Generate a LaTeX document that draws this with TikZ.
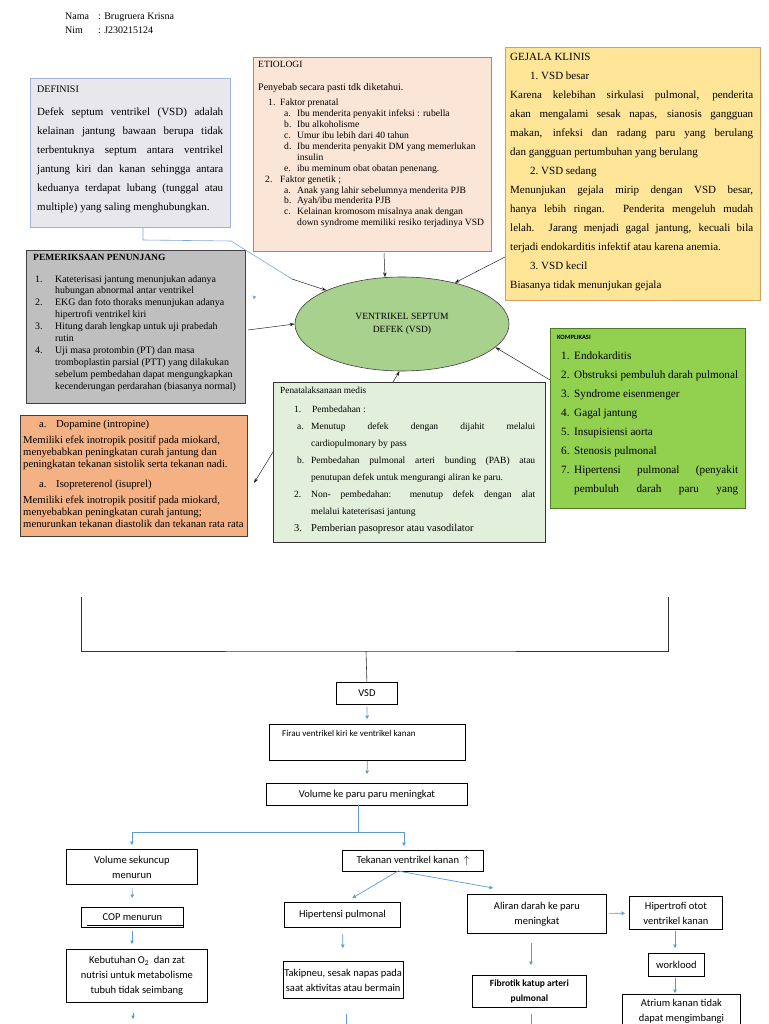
\documentclass[tikz,border=0pt]{standalone}
\usepackage{fontspec}
\setmainfont{Liberation Serif}
\newfontfamily\flowfont{Carlito}
\usetikzlibrary{arrows.meta,shapes.geometric}
\definecolor{defFill}{HTML}{E8E8EC}
\definecolor{defLine}{HTML}{9FB6D8}
\definecolor{etiFill}{HTML}{FBE5D6}
\definecolor{etiLine}{HTML}{C08060}
\definecolor{gejFill}{HTML}{FFE597}
\definecolor{gejLine}{HTML}{D4A060}
\definecolor{pemFill}{HTML}{BFBFBF}
\definecolor{komFill}{HTML}{92D050}
\definecolor{komLine}{HTML}{4F7A2A}
\definecolor{penFill}{HTML}{E2EFDA}
\definecolor{dopFill}{HTML}{F4B183}
\definecolor{ellFill}{HTML}{A9D18E}
\definecolor{flowBlue}{HTML}{5B9BD5}
\definecolor{linkBlue}{HTML}{7EA6D8}
\newcommand\bx[6]{\node[box,#1,minimum width={(#4-#2)*1pt},minimum height={(#5-#3)*1pt}] (#6) at (#2,#3) {};}
\newcommand\fb[7]{\node[fbox,#1,minimum width={(#4-#2)*1pt},minimum height={(#5-#3)*1pt},anchor=north west] (#6) at (#2,#3) {#7};}
\newcommand\lab[2]{\makebox[#1][l]{#2}}
\newcommand\js[2]{\makebox[#1][s]{#2}}
\begin{document}
\begin{tikzpicture}[x=1pt,y=-1pt,
 box/.style={draw, line width=0.6pt, inner sep=0pt, anchor=north west},
 txt/.style={inner sep=0pt, anchor=north west, align=left},
 fbox/.style={draw=black, line width=0.8pt, fill=white, inner sep=1pt, align=center, font=\flowfont\fontsize{10.5}{15}\selectfont},
 blk/.style={draw=black!85, line width=0.5pt, -{Stealth[length=5pt,width=3.5pt]}},
 blu/.style={draw=flowBlue, line width=0.7pt, -{Triangle[length=3.5pt,width=3.5pt]}},
 bluline/.style={draw=flowBlue, line width=0.7pt}]
\useasboundingbox[fill=white] (0,0) rectangle (768,1024);

% header
\node[txt, font=\fontsize{10}{14}\selectfont] (head) at (65,13) {\lab{33pt}{Nama}: Brugruera Krisna\\\lab{33pt}{Nim}: J230215124};

% boxes
\bx{fill=defFill,draw=defLine}{30}{78}{230}{227}{defbox}
\bx{fill=etiFill,draw=etiLine}{253}{57}{491}{251}{etibox}
\bx{fill=gejFill,draw=gejLine}{505}{47}{760}{300}{gejbox}
\bx{fill=pemFill,draw=black!75}{26}{250}{245}{403}{pembox}
\bx{fill=komFill,draw=komLine}{550}{328}{745}{508}{kombox}
\bx{fill=penFill,draw=black!80}{273}{382}{545}{542}{penbox}
\bx{fill=dopFill,draw=black!75}{20}{415}{247}{536}{dopbox}
\node[ellipse, draw=black!75, line width=0.6pt, fill=ellFill, minimum width=214pt, minimum height=94pt, align=center, font=\fontsize{9.5}{13}\selectfont] (vsd) at (402,324) {VENTRIKEL SEPTUM\\DEFEK (VSD)};

% definisi
\node[txt, font=\fontsize{10}{19}\selectfont] (deft) at (37,86) {DEFINISI};
\node[txt, font=\fontsize{11}{19}\selectfont] (defb) at (37,108) {\js{186pt}{Defek septum ventrikel (VSD) adalah}\\
\js{186pt}{kelainan jantung bawaan berupa tidak}\\
\js{186pt}{terbentuknya septum antara ventrikel}\\
\js{186pt}{jantung kiri dan kanan sehingga antara}\\
\js{186pt}{keduanya terdapat lubang (tunggal atau}\\
multiple) yang saling menghubungkan.};

% etiologi
\node[txt, font=\fontsize{9.5}{10.5}\selectfont] (etit) at (258,61) {ETIOLOGI};
\node[txt, font=\fontsize{10}{10.6}\selectfont] (etip) at (258,83) {Penyebab secara pasti tdk diketahui.};
\node[txt, font=\fontsize{9.6}{10.9}\selectfont] (etil) at (265,99) {\hspace*{3pt}\lab{12pt}{1.}Faktor prenatal\\
\hspace*{19pt}\lab{13pt}{a.}Ibu menderita penyakit infeksi : rubella\\
\hspace*{19pt}\lab{13pt}{b.}Ibu alkoholisme\\
\hspace*{19pt}\lab{13pt}{c.}Umur ibu lebih dari 40 tahun\\
\hspace*{19pt}\lab{13pt}{d.}Ibu menderita penyakit DM yang memerlukan\\
\hspace*{32pt}insulin\\
\hspace*{19pt}\lab{13pt}{e.}ibu meminum obat obatan penenang.\\
\lab{15pt}{2.}Faktor genetik ;\\
\hspace*{19pt}\lab{13pt}{a.}Anak yang lahir sebelumnya menderita PJB\\
\hspace*{19pt}\lab{13pt}{b.}Ayah/ibu menderita PJB\\
\hspace*{19pt}\lab{13pt}{c.}Kelainan kromosom misalnya anak dengan\\
\hspace*{32pt}down syndrome memiliki resiko terjadinya VSD};

% gejala klinis
\node[txt, font=\fontsize{11}{19}\selectfont] (gejb) at (510,53) {GEJALA KLINIS\\
\hspace*{20pt}\lab{11pt}{1.}VSD besar\\
\js{243pt}{Karena kelebihan sirkulasi pulmonal, penderita}\\
\js{243pt}{akan mengalami sesak napas, sianosis gangguan}\\
\js{243pt}{makan, infeksi dan radang paru yang berulang}\\
dan gangguan pertumbuhan yang berulang\\
\hspace*{20pt}\lab{11pt}{2.}VSD sedang\\
\js{243pt}{Menunjukan gejala mirip dengan VSD besar,}\\
\js{243pt}{hanya lebih ringan. Penderita mengeluh mudah}\\
\js{243pt}{lelah. Jarang menjadi gagal jantung, kecuali bila}\\
terjadi endokarditis infektif atau karena anemia.\\
\hspace*{20pt}\lab{11pt}{3.}VSD kecil\\
Biasanya tidak menunjukan gejala};

% pemeriksaan penunjang
\node[txt, font=\bfseries\fontsize{9.5}{10}\selectfont] (pemt) at (33,254) {PEMERIKSAAN PENUNJANG};
\node[txt, font=\fontsize{9.9}{11.9}\selectfont] (peml) at (35,275) {\lab{20pt}{1.}Kateterisasi jantung menunjukan adanya\\
\hspace*{20pt}hubungan abnormal antar ventrikel\\
\lab{20pt}{2.}EKG dan foto thoraks menunjukan adanya\\
\hspace*{20pt}hipertrofi ventrikel kiri\\
\lab{20pt}{3.}Hitung darah lengkap untuk uji prabedah\\
\hspace*{20pt}rutin\\
\lab{20pt}{4.}Uji masa protombin (PT) dan masa\\
\hspace*{20pt}tromboplastin parsial (PTT) yang dilakukan\\
\hspace*{20pt}sebelum pembedahan dapat mengungkapkan\\
\hspace*{20pt}kecenderungan perdarahan (biasanya normal)};

% komplikasi
\node[txt, font=\flowfont\bfseries\fontsize{6.5}{8}\selectfont] (komt) at (557,335) {KOMPLIKASI};
\node[txt, font=\fontsize{11.2}{19}\selectfont] (koml) at (561,352) {\lab{13pt}{1.}Endokarditis\\
\lab{13pt}{2.}Obstruksi pembuluh darah pulmonal\\
\lab{13pt}{3.}Syndrome eisenmenger\\
\lab{13pt}{4.}Gagal jantung\\
\lab{13pt}{5.}Insupisiensi aorta\\
\lab{13pt}{6.}Stenosis pulmonal\\
\lab{13pt}{7.}\js{164pt}{Hipertensi pulmonal (penyakit}\\
\hspace*{13pt}\js{164pt}{pembuluh darah paru yang}};

% penatalaksanaan
\node[txt, font=\fontsize{9.3}{10}\selectfont] (pent) at (280,387) {Penatalaksanaan medis};
\node[txt, font=\fontsize{9.5}{17}\selectfont] (penl) at (294,406) {\lab{18pt}{1.}Pembedahan :\\
\hspace*{3pt}\lab{14pt}{a.}\js{224pt}{Menutup defek dengan dijahit melalui}\\
\hspace*{17pt}cardiopulmonary by pass\\
\hspace*{3pt}\lab{14pt}{b.}\js{224pt}{Pembedahan pulmonal arteri bunding (PAB) atau}\\
\hspace*{17pt}penutupan defek untuk mengurangi aliran ke paru.\\
\lab{17pt}{2.}\js{224pt}{Non- pembedahan: menutup defek dengan alat}\\
\hspace*{17pt}melalui kateterisasi jantung\\
{\fontsize{10.5}{17}\selectfont\lab{17pt}{3.}Pemberian pasopresor atau vasodilator}};

% obat
\node[txt, font=\fontsize{10.7}{12}\selectfont] (dopl) at (23,420) {\hspace*{16pt}\lab{17pt}{a.}Dopamine (intropine)\\[4pt]
Memiliki efek inotropik positif pada miokard,\\
menyebabkan peningkatan curah jantung dan\\
peningkatan tekanan sistolik serta tekanan nadi.\\[8pt]
\hspace*{16pt}\lab{17pt}{a.}Isopreterenol (isuprel)\\[4pt]
Memiliki efek inotropik positif pada miokard,\\
menyebabkan peningkatan curah jantung;\\
menurunkan tekanan diastolik dan tekanan rata rata};

% connectors to the ellipse
\coordinate (d1) at (143,240);
\coordinate (d2) at (231,241);
\coordinate (d3) at (292,279);
\draw[draw=linkBlue, line width=0.6pt] (defbox.south -| d1) -- (d1) -- (d2) -- (d3);
\draw[blk] (d3) -- (vsd.156);
\coordinate (st1) at (255,298);
\coordinate (st2) at (252.5,295.5);
\draw[draw=linkBlue, line width=0.5pt, -{Triangle[length=3.5pt,width=3.5pt]}] (st1) -- (st2);
\coordinate (e1) at (384,253);
\draw[blk] (e1) -- (vsd.110);
\coordinate (g1) at (505,257);
\draw[blk] (g1) -- (vsd.38);
\coordinate (k1) at (550,380);
\draw[blk] (k1) -- (vsd.-14);
\coordinate (p1) at (248,330);
\draw[blk] (p1) -- (vsd.west);
\coordinate (n1) at (393,382);
\draw[blk] (n1) -- (vsd.-93);
\coordinate (o1) at (273,452);
\coordinate (o2) at (254,483);
\draw[blk] (o1) -- (o2);

% flowchart
\coordinate (bl) at (81,597);
\coordinate (br) at (668,597);
\coordinate (bm) at (366,651);
\draw[black!80, line width=0.8pt] (bl) |- (bm) -| (br);
\fb{}{336}{682}{397}{704}{vsdb}{VSD}
\draw[black!80, line width=0.6pt] (bm) -- (vsdb.north);
\fb{}{269}{724}{465}{760}{firau}{}
\node[txt, font=\flowfont\fontsize{9}{15}\selectfont] (firaut) at (282,730) {Firau ventrikel kiri ke ventrikel kanan};
\fb{}{266}{783}{467}{805}{vol}{Volume ke paru paru meningkat}
\fb{}{66}{849}{197}{884}{sek}{Volume sekuncup\\menurun}
\fb{}{81}{907}{183}{927}{cop}{COP menurun}
\draw[line width=0.6pt] ([xshift=6pt,yshift=3pt]cop.south west) -- ([yshift=3pt]cop.south east);
\fb{}{66}{949}{207}{1002}{keb}{Kebutuhan O\textsubscript{2}\ \ dan zat\\nutrisi untuk metabolisme\\tubuh tidak seimbang}
\fb{}{342}{850}{483}{871}{tek}{Tekanan ventrikel kanan \ $\uparrow$}
\fb{}{284}{902}{400}{927}{hip}{Hipertensi pulmonal}
\fb{}{283}{961}{400}{998}{tak}{Takipneu, sesak napas pada\\saat aktivitas atau bermain}
\fb{}{467}{894}{606}{933}{ali}{Aliran darah ke paru\\meningkat}
\fb{}{629}{896}{722}{929}{hyp}{Hipertrofi otot\\ventrikel kanan}
\fb{}{648}{953}{704}{976}{wl}{worklood}
\fb{}{622}{994}{740}{1040}{atr}{Atrium kanan tidak\\dapat mengimbangi\\~}
\fb{font=\flowfont\bfseries\fontsize{9.5}{15}\selectfont}{472}{975}{586}{1007}{fib}{Fibrotik katup arteri\\pulmonal}

\draw[blu, shorten <=2pt, shorten >=5pt] (vsdb) -- (firau);
\draw[blu, shorten >=9pt] (firau) -- (vol);
\coordinate (vs) at (358,805);
\coordinate (sp) at (358,832);
\draw[bluline] (vs) -- (sp);
\draw[blu, shorten >=4pt] (sp) -| (sek.north);
\draw[blu, shorten >=4pt] (sp) -| ([xshift=-9pt]tek.north);
\draw[blu, shorten <=3pt, shorten >=9pt] (sek) -- (cop);
\draw[blu, shorten <=3pt, shorten >=5pt] (cop.south -| 132,0) -- (keb.north -| 132,0);
\coordinate (kb) at (133,1019);
\draw[blu, shorten <=10pt] (keb.south -| kb) -- (kb);
\coordinate (tk) at (398,871);
\draw[blu] (tk) -- ([xshift=10pt,yshift=4pt]hip.north);
\draw[blu] (tk) -- ([xshift=26pt,yshift=6pt]ali.north west);
\draw[blu, shorten <=6pt, shorten >=13pt] (hip) -- (tak);
\coordinate (tb) at (346,1024);
\draw[bluline, shorten <=15pt] (tak.south -| tb) -- (tb);
\draw[blu, shorten <=2pt, shorten >=4pt] (ali) -- (hyp);
\draw[blu, shorten <=9pt, shorten >=10pt] (ali.south -| 531,0) -- (fib.north -| 531,0);
\coordinate (fb2) at (531,1024);
\draw[bluline, shorten <=6pt] (fib.south -| fb2) -- (fb2);
\draw[blu, shorten <=1pt, shorten >=5pt] (hyp.south -| 675,0) -- (wl.north -| 675,0);
\draw[blu, shorten <=1pt, shorten >=1pt] (wl.south -| 675,0) -- (atr.north -| 675,0);
\end{tikzpicture}
\end{document}
